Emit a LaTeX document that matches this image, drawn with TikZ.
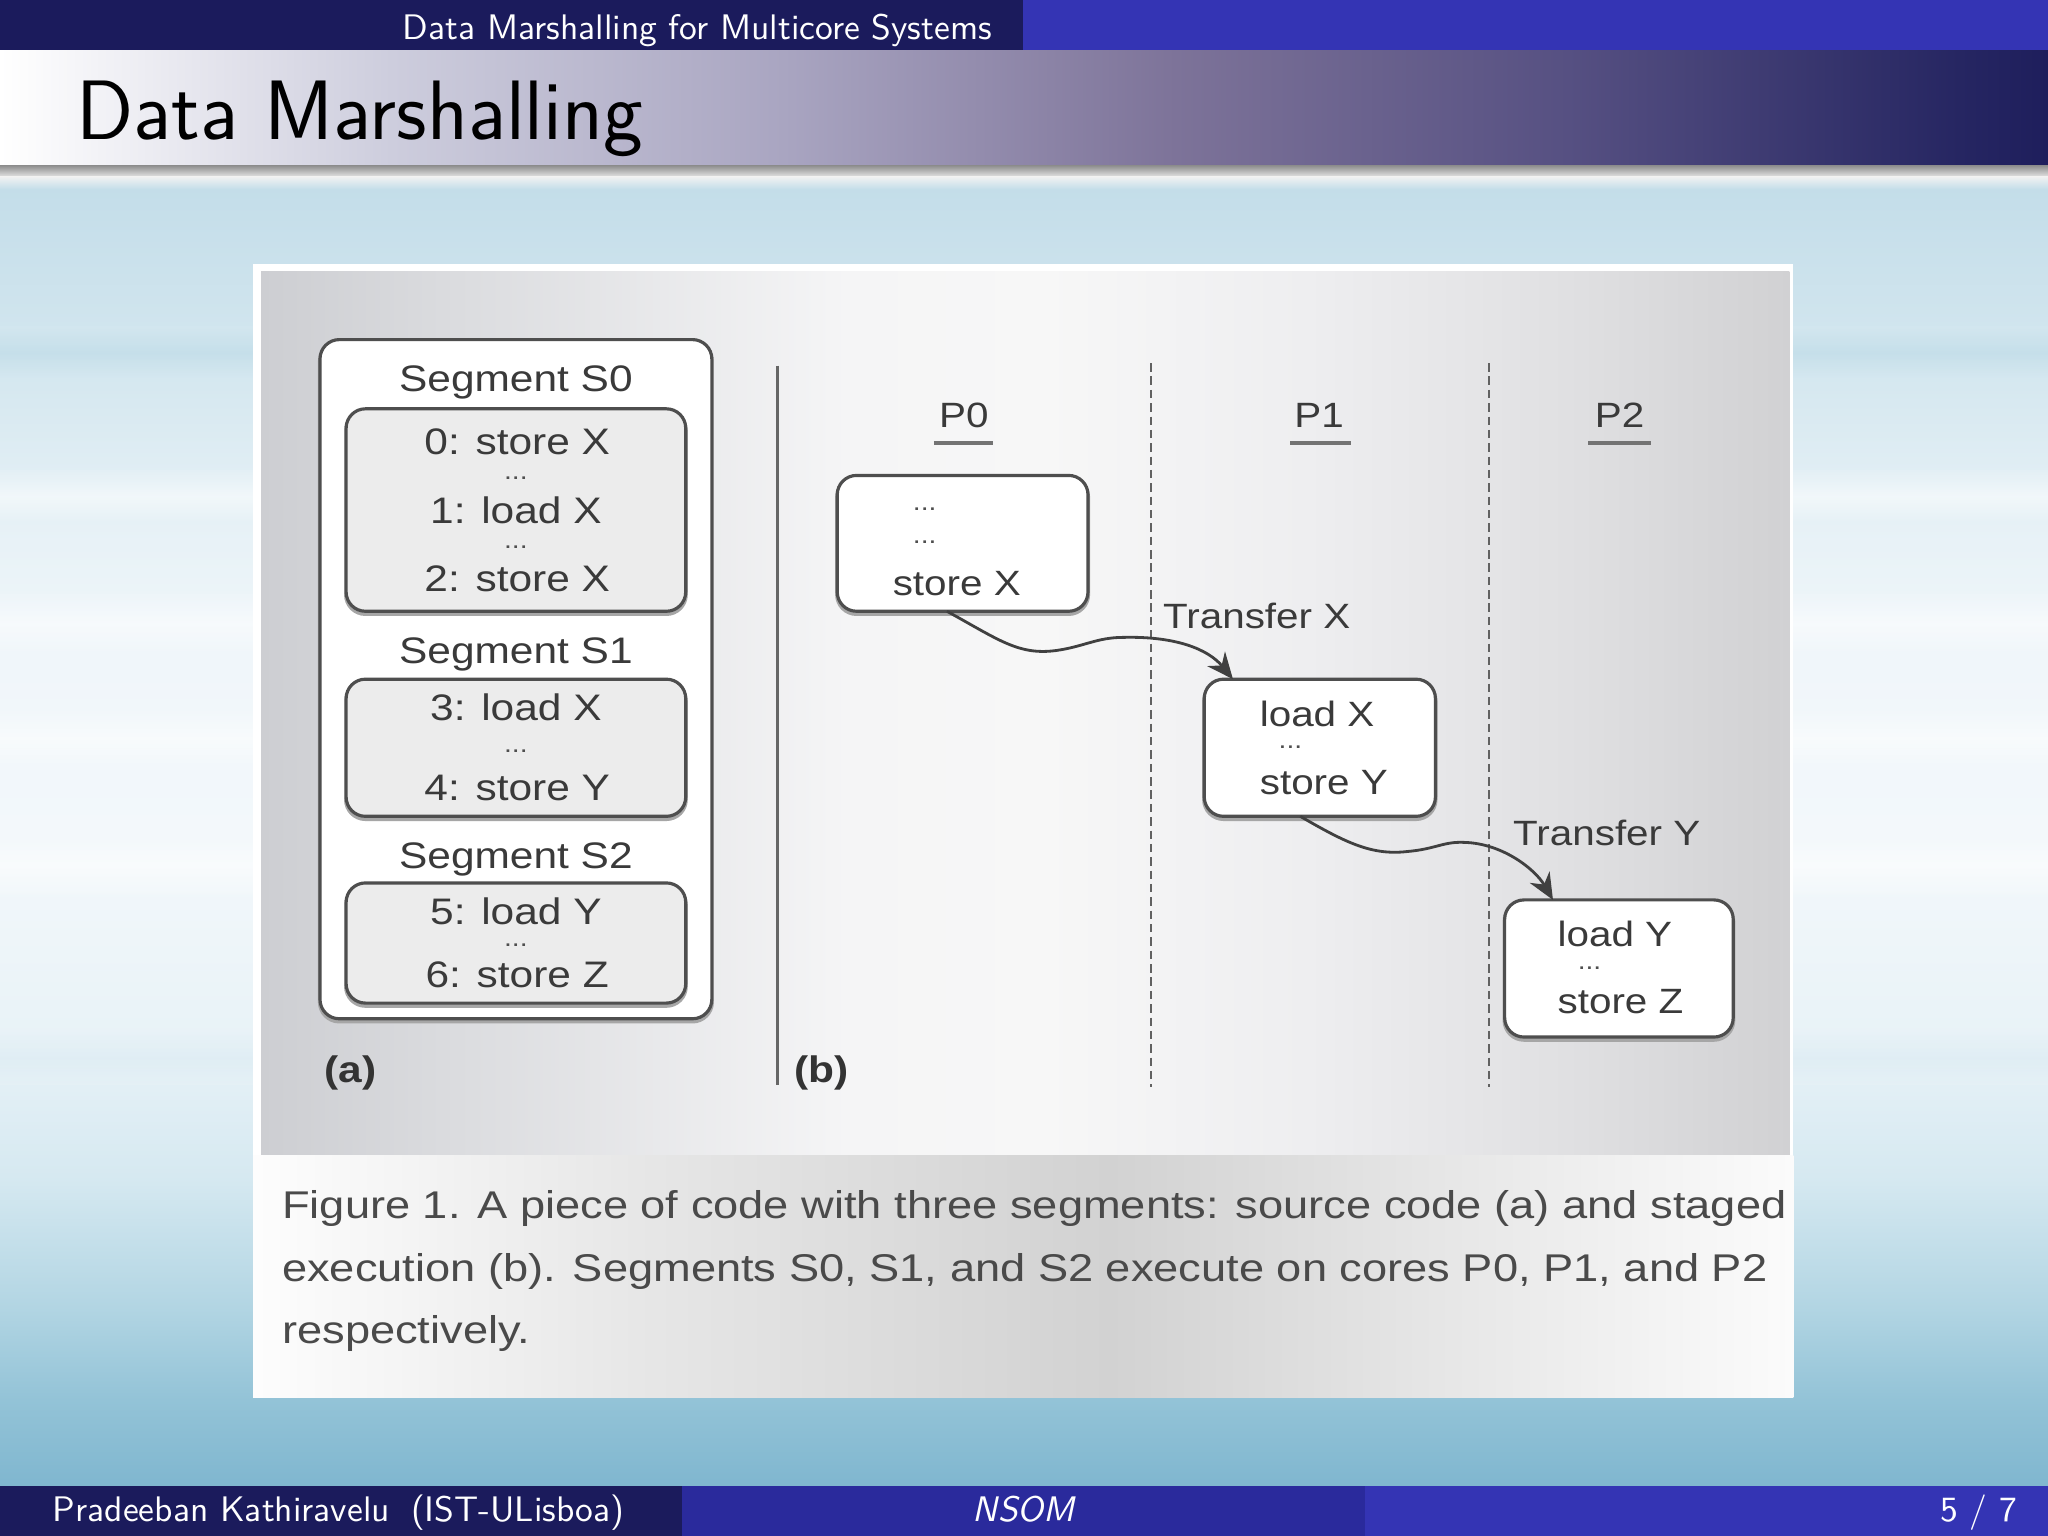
\documentclass[tikz,border=0pt]{standalone}
\usepackage{fontspec}
\usepackage{graphicx}
\usetikzlibrary{arrows.meta,calc}
\newfontfamily\figfont[FakeStretch=1.15]{Liberation Sans}
\newfontfamily\capfont[FakeStretch=1.17]{Liberation Sans}
% slide colours
\definecolor{navyD}{HTML}{1B1B5C}
\definecolor{blueM}{HTML}{2A2A9C}
\definecolor{blueB}{HTML}{3434B4}
\definecolor{figtxt}{HTML}{3A3A3A}
\definecolor{captxt}{HTML}{4A4A4A}
\definecolor{boxline}{HTML}{4E4E4E}
\definecolor{innerfill}{HTML}{ECECEC}
% background
\definecolor{bgA}{HTML}{7FB6CF}
\definecolor{bgB}{HTML}{93C3D7}
\definecolor{bgC}{HTML}{B2D5E3}
\definecolor{bgD}{HTML}{D6E9F1}
\definecolor{bgE}{HTML}{E8F2F7}
\definecolor{bgF}{HTML}{F3F8FB}
\definecolor{bgG}{HTML}{F0F6FA}
\definecolor{bgH}{HTML}{E6F1F6}
\definecolor{bgI}{HTML}{D6E8F0}
\definecolor{bgJ}{HTML}{C3DDE9}
\pgfdeclareverticalshading{slidebg}{100bp}{color(0bp)=(bgA); color(25bp)=(bgA); color(28.42bp)=(bgB); color(31.95bp)=(bgC); color(36.98bp)=(bgD); color(42.02bp)=(bgE); color(49.57bp)=(bgF); color(57.13bp)=(bgG); color(62.16bp)=(bgH); color(67.2bp)=(bgI); color(75bp)=(bgJ); color(100bp)=(bgJ)}
% title bar
\definecolor{tbA}{HTML}{FFFFFF}
\definecolor{tbB}{HTML}{CDCDDD}
\definecolor{tbC}{HTML}{A9A5C1}
\definecolor{tbD}{HTML}{7D7399}
\definecolor{tbE}{HTML}{565082}
\definecolor{tbF}{HTML}{262662}
\definecolor{tbG}{HTML}{1E1E5C}
\pgfdeclarehorizontalshading{titlebar}{100bp}{color(0bp)=(tbA); color(25bp)=(tbA); color(34.57bp)=(tbB); color(44.13bp)=(tbC); color(53.7bp)=(tbD); color(63.27bp)=(tbE); color(72.83bp)=(tbF); color(75bp)=(tbG); color(100bp)=(tbG)}
% figure area
\definecolor{faA}{HTML}{CDCED2}
\definecolor{faB}{HTML}{DBDCDF}
\definecolor{faC}{HTML}{F5F5F6}
\definecolor{faD}{HTML}{F7F7F7}
\definecolor{faE}{HTML}{EEEEF0}
\definecolor{faF}{HTML}{E0E0E2}
\definecolor{faG}{HTML}{D1D1D3}
\pgfdeclarehorizontalshading{figarea}{100bp}{color(0bp)=(faA); color(25bp)=(faA); color(31.4bp)=(faB); color(44.2bp)=(faC); color(50.6bp)=(faD); color(59.2bp)=(faE); color(67.7bp)=(faF); color(75bp)=(faG); color(100bp)=(faG)}
% caption area
\definecolor{caA}{HTML}{FDFDFD}
\definecolor{caB}{HTML}{E6E6E6}
\definecolor{caC}{HTML}{D2D2D2}
\definecolor{caD}{HTML}{E6E6E6}
\definecolor{caE}{HTML}{FBFBFB}
\pgfdeclarehorizontalshading{capbg}{100bp}{color(0bp)=(caA); color(25bp)=(caA); color(38bp)=(caB); color(52.8bp)=(caC); color(63.4bp)=(caD); color(75bp)=(caE); color(100bp)=(caE)}

\begin{document}
\begin{tikzpicture}[x=0.01306cm,y=-0.01306cm,
  boxA/.style={draw=boxline, line width=0.9pt, rounded corners=5.5pt, fill=white, inner sep=0pt, outer sep=0pt},
  boxI/.style={boxA, fill=innerfill},
  boxshadow/.style={draw=black!35, line width=1.2pt, rounded corners=5.5pt},
  ftxt/.style={font=\figfont\fontsize{10.5}{12}\selectfont, text=figtxt, inner sep=0pt, anchor=base},
  ptxt/.style={font=\figfont\fontsize{10}{12}\selectfont, text=figtxt, inner sep=0pt, anchor=base west},
  lbl/.style={font=\figfont\bfseries\fontsize{10.5}{12}\selectfont, text=black!80, inner sep=0pt, anchor=base west},
  dotsn/.style={font=\figfont\fontsize{7}{8}\selectfont, text=figtxt!90, inner sep=0pt},
  captn/.style={font=\capfont\fontsize{11}{13}\selectfont, text=captxt, inner sep=0pt, anchor=base west},
  dashline/.style={draw=black!62, line width=0.6pt, dash pattern=on 2.4pt off 1.4pt},
  xfer/.style={draw=black!75, line width=0.8pt, -{Stealth[length=7.5pt,width=6.5pt]}},
  barstxt/.style={font=\sffamily\fontsize{10.1}{12}\selectfont, text=white, inner sep=0pt}
]
\useasboundingbox (0,0) rectangle (1568,1176);

% ---------- slide background ----------
\shade[shading=slidebg] (0,140) rectangle (1568,1140);
\shade[top color=bgH, bottom color=bgH, middle color=white, opacity=0.5] (0,360) rectangle (1568,400);
\shade[top color=bgG, bottom color=bgG, middle color=white, opacity=0.5] (0,455) rectangle (1568,500);
\shade[top color=bgF, bottom color=bgF, middle color=white, opacity=0.5] (0,545) rectangle (1568,585);
\shade[top color=bgF, bottom color=bgF, middle color=white, opacity=0.5] (0,640) rectangle (1568,685);
\shade[top color=bgD, bottom color=bgD, middle color=bgC, opacity=0.4] (0,250) rectangle (1568,290);
\shade[top color=bgE, bottom color=bgE, middle color=bgD, opacity=0.4] (0,790) rectangle (1568,830);

% header
\fill[navyD] (0,0) rectangle (783,38.5);
\fill[blueB] (783,0) rectangle (1568,38.5);
\node[barstxt, anchor=base east] (hdr) at (760,30) {Data Marshalling for Multicore Systems};

% title bar
\shade[shading=titlebar] (0,38.5) rectangle (1568,126.5);
\shade[top color=black!45, bottom color=black!12] (0,126.5) rectangle (1568,135);
\shade[top color=black!5, bottom color=bgJ] (0,135) rectangle (1568,145);
\node[anchor=base west, inner sep=0pt, text=black] (title) at (58,107)
  {\sffamily\fontsize{24}{28}\selectfont Data Marshalling};

% footer
\fill[navyD] (0,1138) rectangle (522,1176);
\fill[blueM] (522,1138) rectangle (1045,1176);
\fill[blueB] (1045,1138) rectangle (1568,1176);
\node[barstxt, anchor=base west] (ftA) at (40,1165) {Pradeeban Kathiravelu\hspace{0.6em}(IST-ULisboa)};
\node[barstxt, anchor=base] (ftB) at (784,1165) {\itshape NSOM};
\node[barstxt, anchor=base east] (ftC) at (1545,1165) {5 / 7};

% ---------- figure frame ----------
\fill[white] (194,202) rectangle (1373,1070);
\shade[shading=figarea] (200,208) rectangle (1370,885);
\shade[shading=capbg] (194,885) rectangle (1373,1070);

% ---------- panel (a) ----------
\draw[boxshadow] (245,262) rectangle (545,782);
\node[boxA, minimum width=300*0.01306cm, minimum height=520*0.01306cm] (outerA) at (395,520) {};
\draw[boxshadow] (265,315) rectangle (525,470);
\node[boxI, minimum width=260*0.01306cm, minimum height=155*0.01306cm] (s0box) at (395,390.5) {};
\draw[boxshadow] (265,522) rectangle (525,627);
\node[boxI, minimum width=260*0.01306cm, minimum height=105*0.01306cm] (s1box) at (395,572.5) {};
\draw[boxshadow] (265,678) rectangle (525,770);
\node[boxI, minimum width=260*0.01306cm, minimum height=92*0.01306cm] (s2box) at (395,722) {};

\node[ftxt] (tS0) at (395,300) {Segment S0};
\node[ftxt] (t0) at (396,348) {0: store X};
\node[dotsn] (d0a) at (395,366) {...};
\node[ftxt] (t1) at (395,401) {1: load X};
\node[dotsn] (d0b) at (395,419) {...};
\node[ftxt] (t2) at (396,453) {2: store X};
\node[ftxt] (tS1) at (395,508) {Segment S1};
\node[ftxt] (t3) at (395,552) {3: load X};
\node[dotsn] (d1) at (395,575) {...};
\node[ftxt] (t4) at (396,613) {4: store Y};
\node[ftxt] (tS2) at (395,665) {Segment S2};
\node[ftxt] (t5) at (395,708) {5: load Y};
\node[dotsn] (d2) at (395,724) {...};
\node[ftxt] (t6) at (396,756) {6: store Z};
\node[lbl] (la) at (248,829) {(a)};

% ---------- panel (b) ----------
\draw[draw=black!60, line width=0.85pt] (595,280) -- (595,831);
\node[lbl] (lb) at (608,829) {(b)};
\draw[dashline] (881,278) -- (881,832);
\draw[dashline] (1140,278) -- (1140,832);

\node[ptxt, anchor=base] (P0) at (738,327) {P0};
\node[ptxt, anchor=base] (P1) at (1010,327) {P1};
\node[ptxt, anchor=base] (P2) at (1240,327) {P2};
\draw[draw=black!55, line width=1.1pt] (715,339) -- (760,339);
\draw[draw=black!55, line width=1.1pt] (988,339) -- (1034,339);
\draw[draw=black!55, line width=1.1pt] (1216,339) -- (1264,339);

\draw[boxshadow] (641,366) rectangle (833,470);
\node[boxA, minimum width=192*0.01306cm, minimum height=104*0.01306cm] (p0box) at (737,416) {};
\draw[boxshadow] (922,522) rectangle (1099,627);
\node[boxA, minimum width=177*0.01306cm, minimum height=105*0.01306cm] (p1box) at (1010.5,572.5) {};
\draw[boxshadow] (1152,691) rectangle (1327,796);
\node[boxA, minimum width=175*0.01306cm, minimum height=105*0.01306cm] (p2box) at (1239.5,741.5) {};

\node[dotsn] (p0d1) at (708,390) {...};
\node[dotsn] (p0d2) at (708,415) {...};
\node[ptxt] (p0s) at (683,456) {store X};
\node[ptxt] (p1l) at (964,556) {load X};
\node[dotsn] (p1d) at (988,572) {...};
\node[ptxt] (p1s) at (964,608) {store Y};
\node[ptxt] (p2l) at (1192,725) {load Y};
\node[dotsn] (p2d) at (1217,741) {...};
\node[ptxt] (p2s) at (1192,776) {store Z};

\draw[xfer] ($(p0box.south)+(-12,0)$) .. controls (765,490) and (780,502) .. (809,498)
  .. controls (830,495) and (840,488) .. (860,488)
  .. controls (900,487) and (925,497) .. ($(p1box.north west)+(22,0)$);
\node[ptxt] (trX) at (890,481) {Transfer X};

\draw[xfer] ($(p1box.south)+(-15,0)$) .. controls (1030,645) and (1050,655) .. (1077,652)
  .. controls (1100,650) and (1105,644) .. (1122,645)
  .. controls (1150,646) and (1175,665) .. ($(p2box.north west)+(37,0)$);
\node[ptxt] (trY) at (1158,647) {Transfer Y};

% ---------- caption ----------
\node[captn] (cap1) at (215.5,933) {Figure 1. A piece of code with three segments: source code (a) and staged};
\node[captn] (cap2) at (215.5,981) {execution (b). Segments S0, S1, and S2 execute on cores P0, P1, and P2};
\node[captn] (cap3) at (215.5,1029) {respectively.};
\end{tikzpicture}
\end{document}
